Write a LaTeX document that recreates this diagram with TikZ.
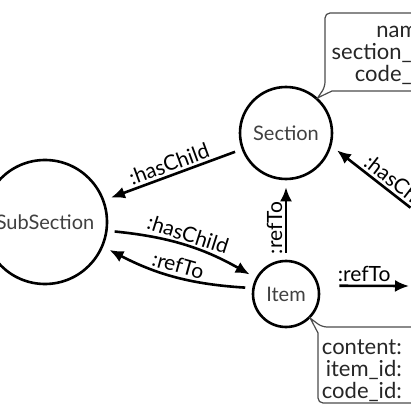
\documentclass[tikz,border=0pt]{standalone}
\usepackage{fontspec}
\setmainfont{Lato}
\usetikzlibrary{arrows.meta}
\tikzset {
    >={Latex[length=14pt, width=12pt]},
    entity/.style={circle, draw, line width=2.6pt, text=black!75, inner sep=0pt, font=\fontsize{20}{24}\selectfont},
    rel/.style={->, line width=2.6pt, shorten >=7pt, shorten <=7pt},
    lbl/.style={sloped, above, inner sep=2.5pt, font=\fontsize{21}{22}\selectfont},
    props/.style={draw=black!70, line width=1.2pt, fill=white},
    keys/.style={align=right, inner sep=0pt, text=black!85, font=\fontsize{22}{22}\selectfont}
}
\begin{document}
\begin{tikzpicture}[x=1pt, y=-1pt]
\useasboundingbox (0,0) rectangle (411,411);
\clip (0,0) rectangle (411,411);

\node[entity, minimum size=124pt] (sub) at (45,222) {SubSection};
\node[entity, minimum size=92pt] (sec) at (286,133) {Section};
\node[entity, minimum size=66pt] (item) at (286,294) {Item};
\coordinate (coderef) at (409,286);
\coordinate (codehas) at (416,212);

% property boxes
\draw[props] (sec.48) -- (332,91) [rounded corners=5pt] -- (480,91) -- (480,13) -- (325,13) -- (325,87) [sharp corners] -- cycle;
\node[keys, anchor=base east] (seckeys) at (435,82) {name:\\section\_id:\\code\_id:};
\draw[props] (item.-45) -- (318,333) [rounded corners=5pt] -- (318,403) -- (480,403) -- (480,327) -- (322,327) [sharp corners] -- cycle;
\node[keys, anchor=base east] (itemkeys) at (402,398) {content:\\item\_id:\\code\_id:};

\draw[rel] (sec) -- (sub) node[lbl, midway] {:hasChild};
\draw[rel] (sub.-8) to[bend left=12] node[lbl] {:hasChild} (item.152);
\draw[rel] (item.170) to[bend left=12] node[lbl] {:refTo} (sub.-23);
\draw[rel] (item) -- (sec) node[lbl, pos=0.4] {:refTo};
\draw[rel, shorten <=20pt, shorten >=0pt] (item.14) -- (coderef) node[lbl, midway] {:refTo};
\draw[rel] (codehas) -- (sec.-16) node[lbl, pos=0.27] {:hasChild};
\end{tikzpicture}
\end{document}
